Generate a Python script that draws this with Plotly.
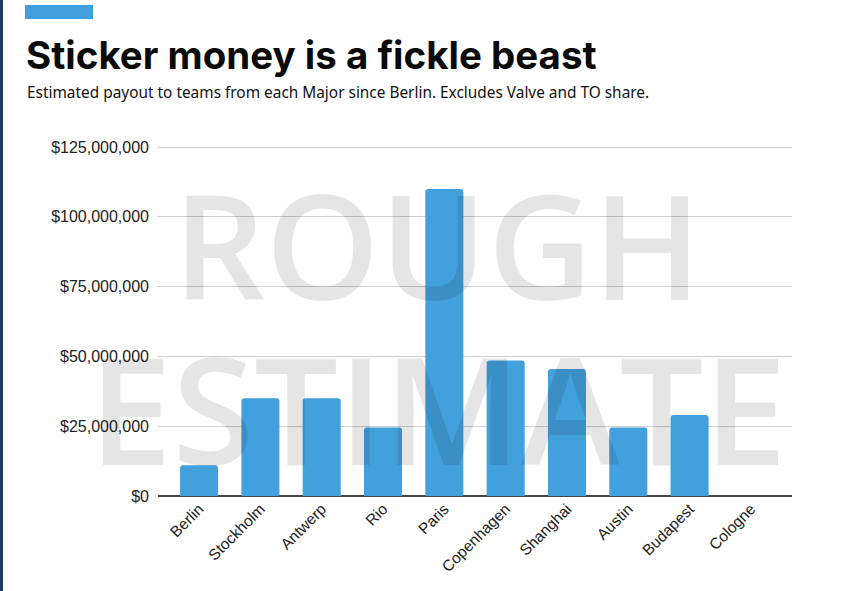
import plotly.graph_objects as go

majors = ["Berlin", "Stockholm", "Antwerp", "Rio", "Paris", "Copenhagen",
          "Shanghai", "Austin", "Budapest", "Cologne"]
payout = [11_000_000, 35_000_000, 35_000_000, 24_500_000, 110_000_000,
          48_500_000, 45_500_000, 24_500_000, 29_000_000, 0]
y_ticks = [0, 25_000_000, 50_000_000, 75_000_000, 100_000_000, 125_000_000]
y_labels = ["$0", "$25,000,000", "$50,000,000", "$75,000,000", "$100,000,000", "$125,000,000"]

PL, PR, PT, PB = 158, 792, 144, 496
PW, PH = PR - PL, PB - PT
px_per_unit = 349 / 125_000_000
ytop = 125_000_000 + (147 - PT) / px_per_unit


def px(x):
    return (x - PL) / PW


def py(y):
    return (PB - y) / PH


fig = go.Figure()
fig.add_trace(go.Bar(x=list(range(len(majors))), y=payout, marker_color="#42A0DC",
                     marker_line_width=0, width=0.62))

fig.update_layout(
    width=850, height=591,
    margin=dict(l=PL, r=850 - PR, t=PT, b=591 - PB),
    paper_bgcolor="white", plot_bgcolor="white",
    showlegend=False,
    barcornerradius=3,
    xaxis=dict(range=[-0.67, 9.67], tickmode="array", tickvals=list(range(len(majors))),
               ticktext=majors, tickangle=-45, showgrid=False, zeroline=False,
               showline=False, ticks="",
               tickfont=dict(family="Liberation Sans, Arial", size=15.5, color="#222")),
    yaxis=dict(range=[0, ytop], tickmode="array", tickvals=y_ticks, ticktext=y_labels,
               showgrid=True, gridcolor="#cfcfcf", gridwidth=1, zeroline=True,
               zerolinecolor="#444", zerolinewidth=1.5, ticks="",
               ticklabelstandoff=8,
               tickfont=dict(family="Liberation Sans, Arial", size=16, color="#222")),
)

# Watermark (drawn above bars, semi-transparent)
for txt, ymid, xmid, size in [("ROUGH", 243, 437, 145), ("ESTIMATE", 407, 438, 149)]:
    fig.add_annotation(text=txt, xref="paper", yref="paper", x=px(xmid), y=py(ymid),
                       showarrow=False, xanchor="center", yanchor="middle",
                       font=dict(family="Open Sans", size=size, weight=600,
                                 color="rgba(0,0,0,0.10)"))

# Title, subtitle, top accent
fig.add_annotation(text="<b>Sticker money is a fickle beast</b>", xref="paper", yref="paper",
                   x=px(24), y=py(55), xanchor="left", yanchor="middle",
                   showarrow=False,
                   font=dict(family="Inter", size=38.5, color="#0a0a0a", weight=900))
fig.add_annotation(text="Estimated payout to teams from each Major since Berlin. Excludes Valve and TO share.",
                   xref="paper", yref="paper",
                   x=px(25), y=py(92), xanchor="left", yanchor="middle",
                   showarrow=False,
                   font=dict(family="Noto Sans", size=15.4, color="#111"))
fig.add_shape(type="rect", xref="paper", yref="paper",
              x0=px(25), x1=px(93), y0=py(19), y1=py(5),
              fillcolor="#42A0DC", line_width=0)
fig.add_shape(type="rect", xref="paper", yref="paper",
              x0=px(0), x1=px(3), y0=py(591), y1=py(0),
              fillcolor="#1d3b5a", line_width=0)

fig.write_html("out.html")
